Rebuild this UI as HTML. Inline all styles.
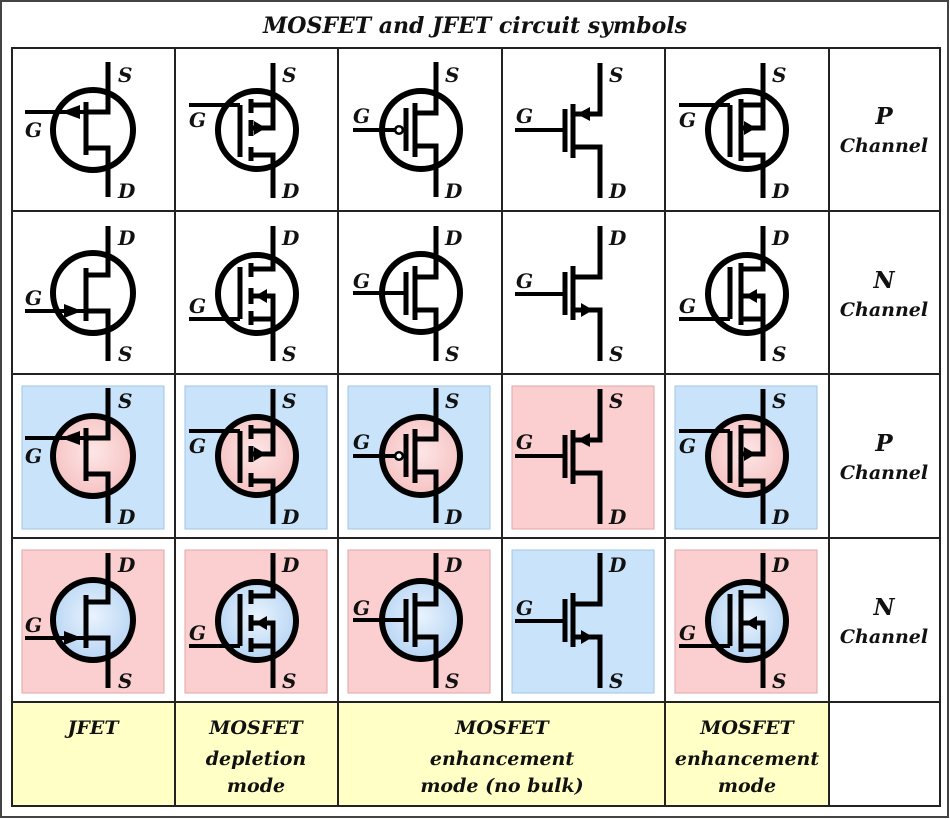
<!DOCTYPE html>
<html><head><meta charset="utf-8"><style>
html,body{margin:0;padding:0;background:#fff}
svg{display:block}
text{font-family:"DejaVu Serif","Liberation Serif",serif;font-weight:bold;font-style:italic;fill:#111}
</style></head><body>
<svg width="950" height="819" viewBox="0 0 950 819" xmlns="http://www.w3.org/2000/svg">
<defs>
<radialGradient id="pk" cx="50%" cy="45%" r="55%"><stop offset="0" stop-color="#fde6e6"/><stop offset="1" stop-color="#f6c2c2"/></radialGradient>
<radialGradient id="bl" cx="50%" cy="45%" r="55%"><stop offset="0" stop-color="#e9f3fd"/><stop offset="1" stop-color="#b7d5f4"/></radialGradient>
<g id="jb" fill="none" stroke="#000" stroke-width="5"><path d="M96 15V64H74M74 100H96V150M74 57V110"/><path d="M13 100H74" stroke-width="4"/></g>
<g id="db" fill="none" stroke="#000" stroke-width="5"><path d="M98 15V58H76M76 85H98V108H76M98 108V150M76 52V66M76 77V93M76 100V114M65 56V108"/><path d="M14 108H65" stroke-width="4"/></g>
<g id="eb" fill="none" stroke="#000" stroke-width="5"><path d="M98 15V58H76M76 85H98V108H76M98 108V150M76 52V114M65 56V108"/><path d="M14 108H65" stroke-width="4"/></g>
<g id="nb" fill="none" stroke="#000" stroke-width="5"><path d="M98 15V66H77M77 99H98V150M77 55V109M68 61V104"/><path d="M15 82H68" stroke-width="4"/></g>
<g id="cb" fill="none" stroke="#000" stroke-width="5"><path d="M98 15V66H71M71 99H98V150M71 55V109M63 61V104"/><path d="M13 83H63" stroke-width="4"/></g>
</defs>
<rect x="1" y="1" width="947" height="816" fill="#fff" stroke="#444" stroke-width="2"/>
<text x="475" y="33" font-size="22" text-anchor="middle">MOSFET and JFET circuit symbols</text>

<g stroke-width="1">
<rect x="22" y="386" width="142" height="143" fill="#c9e3fb" stroke="#9ec4e6"/>
<rect x="185" y="386" width="142" height="143" fill="#c9e3fb" stroke="#9ec4e6"/>
<rect x="348" y="386" width="142" height="143" fill="#c9e3fb" stroke="#9ec4e6"/>
<rect x="512" y="386" width="142" height="143" fill="#fbcfcf" stroke="#e0a4a4"/>
<rect x="675" y="386" width="142" height="143" fill="#c9e3fb" stroke="#9ec4e6"/>
<rect x="22" y="550" width="142" height="143" fill="#fbcfcf" stroke="#e0a4a4"/>
<rect x="185" y="550" width="142" height="143" fill="#fbcfcf" stroke="#e0a4a4"/>
<rect x="348" y="550" width="142" height="143" fill="#fbcfcf" stroke="#e0a4a4"/>
<rect x="512" y="550" width="142" height="143" fill="#c9e3fb" stroke="#9ec4e6"/>
<rect x="675" y="550" width="142" height="143" fill="#fbcfcf" stroke="#e0a4a4"/>
</g>
<g fill="#ffffc6">
<rect x="12" y="702" width="163" height="104"/>
<rect x="175" y="702" width="163" height="104"/>
<rect x="338" y="702" width="327" height="104"/>
<rect x="665" y="702" width="164" height="104"/>
</g>
<g font-size="19" text-anchor="middle">
<text x="93" y="734">JFET</text>
<text x="256" y="734">MOSFET</text><text x="256" y="765">depletion</text><text x="256" y="792">mode</text>
<text x="502" y="734">MOSFET</text><text x="502" y="765">enhancement</text><text x="502" y="792">mode (no bulk)</text>
<text x="747" y="734">MOSFET</text><text x="747" y="765">enhancement</text><text x="747" y="792">mode</text>
</g>
<g text-anchor="middle">
<text x="884" y="124" font-size="23">P</text><text x="884" y="152" font-size="19">Channel</text>
<text x="884" y="288" font-size="23">N</text><text x="884" y="316" font-size="19">Channel</text>
<text x="884" y="451" font-size="23">P</text><text x="884" y="479" font-size="19">Channel</text>
<text x="884" y="615" font-size="23">N</text><text x="884" y="643" font-size="19">Channel</text>
</g>

<g transform="translate(12,48)"><circle cx="81" cy="82" r="40" fill="none" stroke="#000" stroke-width="6"/><use href="#jb" transform="translate(0,164) scale(1,-1)"/><polygon points="49,64 68,57 68,71"/><text x="106" y="34" font-size="20">S</text><text x="106" y="150" font-size="20">D</text><text x="13" y="89" font-size="20">G</text></g>
<g transform="translate(175,48)"><circle cx="82" cy="82" r="39" fill="none" stroke="#000" stroke-width="6"/><use href="#db" transform="translate(0,165) scale(1,-1)"/><polygon points="91,80 79,73 79,87"/><text x="107" y="34" font-size="20">S</text><text x="107" y="150" font-size="20">D</text><text x="14" y="79" font-size="20">G</text></g>
<g transform="translate(338,48)"><circle cx="83" cy="82" r="39" fill="none" stroke="#000" stroke-width="6"/><use href="#nb" transform="translate(0,164) scale(1,-1)"/><circle cx="61" cy="82" r="3.8" fill="#fff" stroke="#000" stroke-width="2.5"/><text x="107" y="34" font-size="20">S</text><text x="107" y="150" font-size="20">D</text><text x="15" y="75" font-size="20">G</text></g>
<g transform="translate(502,48)"><use href="#cb" transform="translate(0,165) scale(1,-1)"/><polygon points="75,66 88,59 88,73"/><text x="107" y="34" font-size="20">S</text><text x="107" y="150" font-size="20">D</text><text x="14" y="75" font-size="20">G</text></g>
<g transform="translate(665,48)"><circle cx="82" cy="82" r="39" fill="none" stroke="#000" stroke-width="6"/><use href="#eb" transform="translate(0,165) scale(1,-1)"/><polygon points="91,80 79,73 79,87"/><text x="107" y="34" font-size="20">S</text><text x="107" y="150" font-size="20">D</text><text x="14" y="79" font-size="20">G</text></g>

<g transform="translate(12,211)"><circle cx="81" cy="82" r="40" fill="none" stroke="#000" stroke-width="6"/><use href="#jb"/><polygon points="70,100 52,93 52,107"/><text x="106" y="34" font-size="20">D</text><text x="106" y="150" font-size="20">S</text><text x="13" y="94" font-size="20">G</text></g>
<g transform="translate(175,211)"><circle cx="82" cy="83" r="39" fill="none" stroke="#000" stroke-width="6"/><use href="#db"/><polygon points="80,85 92,78 92,92"/><text x="107" y="34" font-size="20">D</text><text x="107" y="150" font-size="20">S</text><text x="14" y="102" font-size="20">G</text></g>
<g transform="translate(338,211)"><circle cx="83" cy="82" r="39" fill="none" stroke="#000" stroke-width="6"/><use href="#nb"/><text x="107" y="34" font-size="20">D</text><text x="107" y="150" font-size="20">S</text><text x="15" y="77" font-size="20">G</text></g>
<g transform="translate(502,211)"><use href="#cb"/><polygon points="91,99 79,92 79,106"/><text x="107" y="34" font-size="20">D</text><text x="107" y="150" font-size="20">S</text><text x="14" y="77" font-size="20">G</text></g>
<g transform="translate(665,211)"><circle cx="82" cy="83" r="39" fill="none" stroke="#000" stroke-width="6"/><use href="#eb"/><polygon points="80,85 92,78 92,92"/><text x="107" y="34" font-size="20">D</text><text x="107" y="150" font-size="20">S</text><text x="14" y="102" font-size="20">G</text></g>

<g transform="translate(12,374)"><circle cx="81" cy="82" r="40" fill="url(#pk)" stroke="#000" stroke-width="6"/><use href="#jb" transform="translate(0,164) scale(1,-1)"/><polygon points="49,64 68,57 68,71"/><text x="106" y="34" font-size="20">S</text><text x="106" y="150" font-size="20">D</text><text x="13" y="89" font-size="20">G</text></g>
<g transform="translate(175,374)"><circle cx="82" cy="82" r="39" fill="url(#pk)" stroke="#000" stroke-width="6"/><use href="#db" transform="translate(0,165) scale(1,-1)"/><polygon points="91,80 79,73 79,87"/><text x="107" y="34" font-size="20">S</text><text x="107" y="150" font-size="20">D</text><text x="14" y="79" font-size="20">G</text></g>
<g transform="translate(338,374)"><circle cx="83" cy="82" r="39" fill="url(#pk)" stroke="#000" stroke-width="6"/><use href="#nb" transform="translate(0,164) scale(1,-1)"/><circle cx="61" cy="82" r="3.8" fill="#fff" stroke="#000" stroke-width="2.5"/><text x="107" y="34" font-size="20">S</text><text x="107" y="150" font-size="20">D</text><text x="15" y="75" font-size="20">G</text></g>
<g transform="translate(502,374)"><use href="#cb" transform="translate(0,165) scale(1,-1)"/><polygon points="75,66 88,59 88,73"/><text x="107" y="34" font-size="20">S</text><text x="107" y="150" font-size="20">D</text><text x="14" y="75" font-size="20">G</text></g>
<g transform="translate(665,374)"><circle cx="82" cy="82" r="39" fill="url(#pk)" stroke="#000" stroke-width="6"/><use href="#eb" transform="translate(0,165) scale(1,-1)"/><polygon points="91,80 79,73 79,87"/><text x="107" y="34" font-size="20">S</text><text x="107" y="150" font-size="20">D</text><text x="14" y="79" font-size="20">G</text></g>

<g transform="translate(12,538)"><circle cx="81" cy="82" r="40" fill="url(#bl)" stroke="#000" stroke-width="6"/><use href="#jb"/><polygon points="70,100 52,93 52,107"/><text x="106" y="34" font-size="20">D</text><text x="106" y="150" font-size="20">S</text><text x="13" y="94" font-size="20">G</text></g>
<g transform="translate(175,538)"><circle cx="82" cy="83" r="39" fill="url(#bl)" stroke="#000" stroke-width="6"/><use href="#db"/><polygon points="80,85 92,78 92,92"/><text x="107" y="34" font-size="20">D</text><text x="107" y="150" font-size="20">S</text><text x="14" y="102" font-size="20">G</text></g>
<g transform="translate(338,538)"><circle cx="83" cy="82" r="39" fill="url(#bl)" stroke="#000" stroke-width="6"/><use href="#nb"/><text x="107" y="34" font-size="20">D</text><text x="107" y="150" font-size="20">S</text><text x="15" y="77" font-size="20">G</text></g>
<g transform="translate(502,538)"><use href="#cb"/><polygon points="91,99 79,92 79,106"/><text x="107" y="34" font-size="20">D</text><text x="107" y="150" font-size="20">S</text><text x="14" y="77" font-size="20">G</text></g>
<g transform="translate(665,538)"><circle cx="82" cy="83" r="39" fill="url(#bl)" stroke="#000" stroke-width="6"/><use href="#eb"/><polygon points="80,85 92,78 92,92"/><text x="107" y="34" font-size="20">D</text><text x="107" y="150" font-size="20">S</text><text x="14" y="102" font-size="20">G</text></g>

<g stroke="#222" stroke-width="2" fill="none">
<rect x="12" y="48" width="928" height="758"/>
<path d="M12 211H940M12 374H940M12 538H940M12 702H940"/>
<path d="M175 48V806M338 48V806M502 48V702M665 48V806M829 48V806"/>
</g>
</svg>
</body></html>
